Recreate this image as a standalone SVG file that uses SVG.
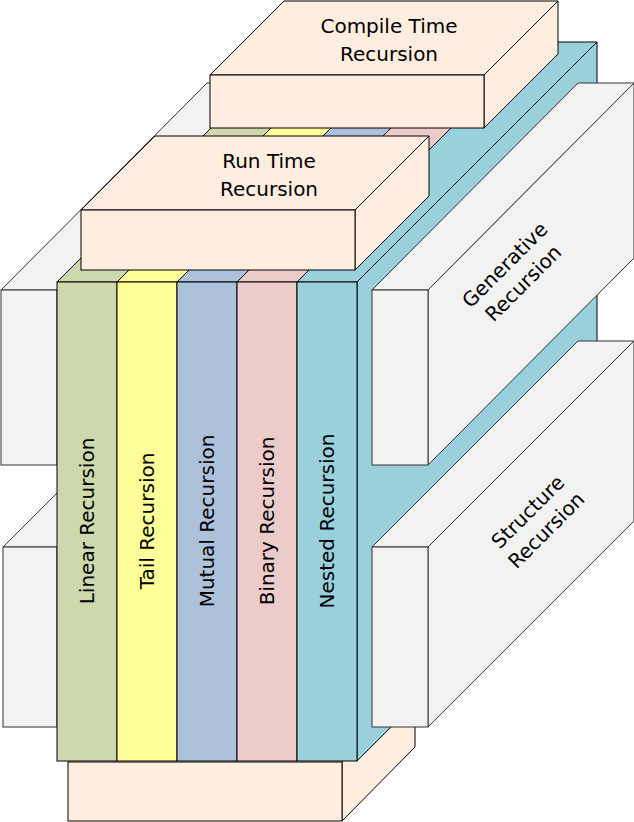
<svg xmlns="http://www.w3.org/2000/svg" width="634" height="822" viewBox="0 0 634 822">
<style>
.g{fill:#f2f2f2;stroke:#333;stroke-width:1}
.p{fill:#ffede0;stroke:#000;stroke-width:1}
.c{stroke:#000;stroke-width:1}
text{font-family:"DejaVu Sans",Verdana,sans-serif;font-size:20px;fill:#000;text-anchor:middle}
</style>
<g id="gen-left">
<polygon class="g" points="1,290 207,83 263,83 57,290"/>
<rect class="g" x="1" y="290" width="56" height="175"/>
</g>
<g id="str-left">
<polygon class="g" points="3,547 209,341 265,341 59,547"/>
<rect class="g" x="3" y="547" width="54" height="180"/>
</g>
<g id="base">
<polygon class="p" points="342,762 415,688 415,747 342,821"/>
<rect class="p" x="68" y="762" width="274" height="59"/>
</g>
<g id="columns">
<polygon class="c" fill="#9ad0dc" points="357,282 597,42 597,521 357,761"/>
<polygon class="c" fill="#cdd9ac" points="57,282 297,42 357,42 117,282"/>
<polygon class="c" fill="#ffff99" points="117,282 357,42 417,42 177,282"/>
<polygon class="c" fill="#adc2da" points="177,282 417,42 477,42 237,282"/>
<polygon class="c" fill="#ecccca" points="237,282 477,42 537,42 297,282"/>
<polygon class="c" fill="#9ad0dc" points="297,282 537,42 597,42 357,282"/>
<g id="linear"><rect class="c" fill="#cdd9ac" x="57" y="282" width="60" height="479"/><text transform="translate(94,521) rotate(-90)">Linear Recursion</text></g>
<g id="tail"><rect class="c" fill="#ffff99" x="117" y="282" width="60" height="479"/><text transform="translate(154,521) rotate(-90)">Tail Recursion</text></g>
<g id="mutual"><rect class="c" fill="#adc2da" x="177" y="282" width="60" height="479"/><text transform="translate(214,521) rotate(-90)">Mutual Recursion</text></g>
<g id="binary"><rect class="c" fill="#ecccca" x="237" y="282" width="60" height="479"/><text transform="translate(274,521) rotate(-90)">Binary Recursion</text></g>
<g id="nested"><rect class="c" fill="#9ad0dc" x="297" y="282" width="60" height="479"/><text transform="translate(334,521) rotate(-90)">Nested Recursion</text></g>
</g>
<g id="compile">
<polygon class="p" points="210,75 284,1 558,1 484,75"/>
<polygon class="p" points="484,75 558,1 558,54 484,128"/>
<rect class="p" x="210" y="75" width="274" height="53"/>
<text x="389" y="33">Compile Time</text>
<text x="389" y="61">Recursion</text>
</g>
<g id="runtime">
<polygon class="p" points="81,210 155,136 429,136 355,210"/>
<polygon class="p" points="355,210 429,136 429,196 355,270"/>
<rect class="p" x="81" y="210" width="274" height="60"/>
<text x="269" y="168">Run Time</text>
<text x="269" y="196">Recursion</text>
</g>
<g id="generative">
<polygon class="g" points="372,290 578,83 634,83 428,290"/>
<polygon class="g" points="428,290 634,83 634,258 428,465"/>
<rect class="g" x="372" y="290" width="56" height="175"/>
<text transform="translate(514,274) rotate(-45)"><tspan x="0" y="-6">Generative</tspan><tspan x="0" y="20">Recursion</tspan></text>
</g>
<g id="structure">
<polygon class="g" points="372,547 578,341 634,341 428,547"/>
<polygon class="g" points="428,547 634,341 634,521 428,727"/>
<rect class="g" x="372" y="547" width="56" height="180"/>
<text transform="translate(537,521) rotate(-45)"><tspan x="0" y="-6">Structure</tspan><tspan x="0" y="20">Recursion</tspan></text>
</g>
</svg>
